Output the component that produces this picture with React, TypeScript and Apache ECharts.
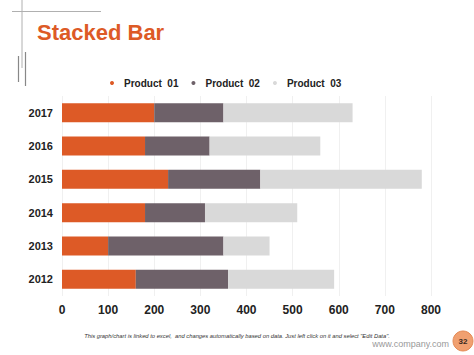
import React, { useEffect, useRef } from "react";
import * as echarts from "echarts";

const categories = ["2012", "2013", "2014", "2015", "2016", "2017"];
const product01 = [160, 100, 180, 230, 180, 200];
const product02 = [200, 250, 130, 200, 140, 150];
const product03 = [230, 100, 200, 350, 240, 280];
const seriesNames = ["Product  01", "Product  02", "Product  03"];
const colors = ["#DD5A26", "#6E6169", "#D9D9D9"];

export default function App() {
  const ref = useRef<HTMLDivElement>(null);
  useEffect(() => {
    if (!ref.current) return;
    const chart = echarts.init(ref.current, null, { renderer: "svg" });
    const values = [product01, product02, product03];
    chart.setOption({
      animation: false,
      backgroundColor: "#ffffff",
      textStyle: { fontFamily: "Liberation Sans, Arial, sans-serif" },
      legend: {
        left: 105,
        top: 73,
        icon: "circle",
        itemWidth: 14,
        itemHeight: 4,
        itemGap: 13,
        textStyle: { fontSize: 10, fontWeight: "bold", color: "#222" },
        data: seriesNames,
      },
      grid: { left: 62, right: 43, top: 96, height: 200 },
      xAxis: {
        type: "value",
        min: 0,
        max: 800,
        interval: 100,
        axisLine: { show: false },
        axisTick: { show: false },
        axisLabel: { fontSize: 12, fontWeight: "bold", color: "#222", margin: 8 },
        splitLine: { show: true, lineStyle: { color: "#f0f0f0", width: 1 } },
      },
      yAxis: {
        type: "category",
        data: categories,
        axisLine: { show: false },
        axisTick: { show: false },
        axisLabel: { fontSize: 11, fontWeight: "bold", color: "#222", margin: 9 },
      },
      series: seriesNames.map((name, i) => ({
        name,
        type: "bar",
        stack: "total",
        barWidth: "57%",
        itemStyle: { color: colors[i] },
        data: values[i],
      })),
      graphic: [
        { type: "line", shape: { x1: 12, y1: 11.5, x2: 101, y2: 11.5 }, style: { stroke: "#b0b0b0", lineWidth: 1 } },
        { type: "line", shape: { x1: 22, y1: 0, x2: 22, y2: 68 }, style: { stroke: "#b0b0b0", lineWidth: 1 } },
        { type: "line", shape: { x1: 18.5, y1: 56, x2: 18.5, y2: 82 }, style: { stroke: "#888", lineWidth: 1.2 } },
        { type: "line", shape: { x1: 25.5, y1: 52, x2: 25.5, y2: 86 }, style: { stroke: "#888", lineWidth: 1.2 } },
        {
          type: "text",
          left: 37,
          top: 21,
          style: { text: "Stacked Bar", fill: "#DD5A26", font: "bold 22px 'Liberation Sans', Arial, sans-serif" },
        },
        {
          type: "text",
          x: 237,
          y: 336,
          style: {
            text: "This graph/chart is linked to excel,  and changes automatically based on data. Just left click on it and select \"Edit Data\".",
            fill: "#333",
            font: "italic 5.8px 'Liberation Sans', Arial, sans-serif",
            align: "center",
            verticalAlign: "middle",
          },
        },
        {
          type: "text",
          x: 449,
          y: 344,
          style: {
            text: "www.company.com",
            fill: "#999",
            font: "9px 'Liberation Sans', Arial, sans-serif",
            align: "right",
            verticalAlign: "middle",
          },
        },
        {
          type: "circle",
          shape: { cx: 463, cy: 341, r: 10 },
          style: { fill: "#F0A070", stroke: "#E58A55", lineWidth: 1 },
        },
        {
          type: "text",
          x: 463,
          y: 341,
          style: {
            text: "32",
            fill: "#3a2a20",
            font: "bold 8px 'Liberation Sans', Arial, sans-serif",
            align: "center",
            verticalAlign: "middle",
          },
        },
      ],
    });
    return () => chart.dispose();
  }, []);
  return <div ref={ref} style={{ width: 474, height: 355, position: "absolute", left: 0, top: 0 }} />;
}
